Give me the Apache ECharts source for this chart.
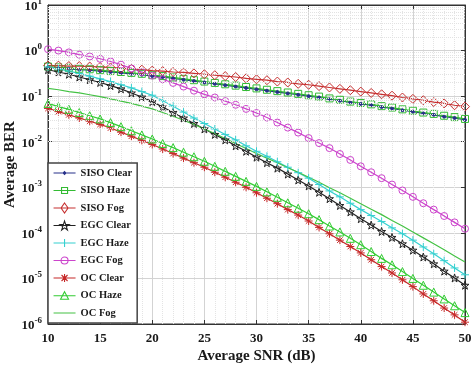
<!DOCTYPE html>
<html><head><meta charset="utf-8">
<script src="https://cdn.jsdelivr.net/npm/echarts@6/dist/echarts.min.js"></script>
<style>html,body{margin:0;padding:0;background:#fff}#c{width:474px;height:365px}</style>
</head><body><div id="c"></div>
<script>
// Average SNR (dB), one marker per dB
var snr = [10,11,12,13,14,15,16,17,18,19,20,21,22,23,24,25,26,27,28,29,30,31,32,33,34,35,36,37,38,39,40,41,42,43,44,45,46,47,48,49,50];
// Average BER, stored as log10(BER)
var sisoClear = [-0.37,-0.39,-0.40,-0.42,-0.43,-0.45,-0.47,-0.49,-0.51,-0.53,-0.56,-0.58,-0.61,-0.64,-0.67,-0.70,-0.73,-0.76,-0.79,-0.82,-0.85,-0.88,-0.91,-0.94,-0.97,-1.00,-1.03,-1.07,-1.10,-1.14,-1.17,-1.20,-1.24,-1.27,-1.31,-1.34,-1.38,-1.41,-1.45,-1.48,-1.52];
var sisoHaze = [-0.35,-0.37,-0.38,-0.40,-0.41,-0.43,-0.45,-0.47,-0.49,-0.51,-0.54,-0.56,-0.59,-0.62,-0.65,-0.68,-0.71,-0.74,-0.77,-0.80,-0.83,-0.86,-0.89,-0.92,-0.95,-0.98,-1.01,-1.05,-1.08,-1.12,-1.15,-1.18,-1.22,-1.25,-1.29,-1.32,-1.36,-1.39,-1.43,-1.46,-1.50];
var sisoFog = [-0.33,-0.33,-0.34,-0.34,-0.35,-0.36,-0.37,-0.39,-0.40,-0.42,-0.44,-0.45,-0.47,-0.48,-0.50,-0.52,-0.54,-0.56,-0.58,-0.61,-0.63,-0.65,-0.68,-0.70,-0.73,-0.75,-0.78,-0.81,-0.84,-0.87,-0.90,-0.93,-0.96,-0.99,-1.03,-1.06,-1.09,-1.13,-1.16,-1.20,-1.23];
var egcClear = [-0.42,-0.47,-0.52,-0.58,-0.64,-0.70,-0.77,-0.84,-0.93,-1.02,-1.12,-1.24,-1.36,-1.48,-1.60,-1.72,-1.84,-1.96,-2.09,-2.21,-2.34,-2.46,-2.58,-2.71,-2.84,-2.97,-3.11,-3.25,-3.40,-3.54,-3.69,-3.83,-3.97,-4.10,-4.24,-4.38,-4.53,-4.68,-4.84,-4.99,-5.15];
var egcHaze = [-0.36,-0.40,-0.45,-0.50,-0.56,-0.62,-0.68,-0.75,-0.82,-0.90,-0.98,-1.10,-1.22,-1.35,-1.48,-1.60,-1.72,-1.84,-1.96,-2.09,-2.21,-2.32,-2.44,-2.56,-2.68,-2.80,-2.94,-3.08,-3.21,-3.35,-3.49,-3.62,-3.75,-3.89,-4.02,-4.16,-4.31,-4.46,-4.61,-4.77,-4.92];
var egcFog = [0.03,0.00,-0.04,-0.09,-0.13,-0.18,-0.24,-0.31,-0.39,-0.47,-0.55,-0.63,-0.71,-0.79,-0.88,-0.96,-1.03,-1.11,-1.19,-1.28,-1.37,-1.47,-1.58,-1.69,-1.80,-1.92,-2.03,-2.14,-2.27,-2.40,-2.54,-2.67,-2.80,-2.94,-3.07,-3.21,-3.35,-3.49,-3.63,-3.77,-3.91];
var ocClear = [-1.27,-1.34,-1.41,-1.48,-1.55,-1.62,-1.70,-1.79,-1.88,-1.97,-2.06,-2.16,-2.26,-2.36,-2.46,-2.56,-2.67,-2.78,-2.89,-3.00,-3.12,-3.24,-3.36,-3.49,-3.61,-3.74,-3.88,-4.02,-4.16,-4.30,-4.44,-4.59,-4.74,-4.88,-5.03,-5.18,-5.34,-5.49,-5.65,-5.80,-5.96];
var ocHaze = [-1.16,-1.23,-1.29,-1.36,-1.43,-1.50,-1.58,-1.67,-1.76,-1.85,-1.94,-2.04,-2.13,-2.23,-2.33,-2.43,-2.54,-2.65,-2.76,-2.87,-2.98,-3.10,-3.22,-3.34,-3.46,-3.58,-3.71,-3.85,-3.98,-4.12,-4.26,-4.41,-4.56,-4.70,-4.85,-5.00,-5.15,-5.30,-5.45,-5.60,-5.75];
var ocFog = [-0.83,-0.86,-0.90,-0.93,-0.97,-1.01,-1.06,-1.11,-1.16,-1.22,-1.28,-1.36,-1.44,-1.53,-1.62,-1.72,-1.82,-1.93,-2.04,-2.15,-2.26,-2.36,-2.46,-2.57,-2.67,-2.78,-2.89,-3.01,-3.12,-3.24,-3.36,-3.48,-3.60,-3.73,-3.85,-3.98,-4.11,-4.24,-4.37,-4.51,-4.64];
var seriesNames = ['SISO Clear','SISO Haze','SISO Fog','EGC Clear','EGC Haze','EGC Fog','OC Clear','OC Haze','OC Fog'];
var xTicks = [10,15,20,25,30,35,40,45,50];

var FONT = '"Liberation Serif", "DejaVu Serif", serif';
var SYM = {
  plus: 'path://M5,0 L5,10 M0,5 L10,5',
  aster: 'path://M5,0 L5,10 M0,5 L10,5 M1.5,1.5 L8.5,8.5 M8.5,1.5 L1.5,8.5',
  penta: 'path://M5,0 L6.2,3.6 L10,3.6 L6.9,5.9 L8.1,9.5 L5,7.3 L1.9,9.5 L3.1,5.9 L0,3.6 L3.8,3.6 Z'
};
// legend icons: line sample with the marker in the middle (22 x 10 box)
var LEG = {
  dot: 'path://M0,5 L22,5 M11,3.6 L12.4,5 L11,6.4 L9.6,5 Z',
  rect: 'path://M0,5 L22,5 M8,2 L14,2 L14,8 L8,8 Z',
  diamond: 'path://M0,5 L22,5 M11,0 L14.5,5 L11,10 L7.5,5 Z',
  penta: 'path://M0,5 L22,5 M11,0.5 L12.1,3.9 L15.6,3.9 L12.8,6 L13.9,9.4 L11,7.3 L8.1,9.4 L9.2,6 L6.4,3.9 L9.9,3.9 Z',
  plus: 'path://M0,5 L22,5 M11,1 L11,9',
  circle: 'path://M0,5 L22,5 M14.5,5 A3.5,3.5 0 1 1 7.5,5 A3.5,3.5 0 1 1 14.5,5 Z',
  aster: 'path://M0,5 L22,5 M11,1 L11,9 M8,2 L14,8 M14,2 L8,8',
  tri: 'path://M0,5 L22,5 M11,1 L15,8.5 L7,8.5 Z',
  line: 'path://M0,5 L22,5 M0,5 L0,5.01 M22,0 L22,0.01 M22,10 L22,10.01'
};

function pts(arr){ return snr.map(function(x,i){ return [x, Math.pow(10, arr[i])]; }); }
function mk(name, arr, color, symbol, size, filled){
  return {
    name: name, type: 'line', data: pts(arr),
    symbol: symbol, symbolSize: size, showSymbol: symbol !== 'none',
    lineStyle: {color: color, width: 1.2},
    itemStyle: {color: filled ? color : 'rgba(0,0,0,0)', borderColor: color, borderWidth: 1},
    emphasis: {disabled: true}, animation: false
  };
}
function leg(name, icon, color){
  return {name: name, icon: icon, itemStyle: {color: 'rgba(0,0,0,0)', borderColor: color, borderWidth: 1.1}};
}
var minorY = [];
for (var d = -6; d < 1; d++) { for (var k = 2; k <= 9; k++) { minorY.push({yAxis: k * Math.pow(10, d)}); } }

var C = {sc:'#27308a', sh:'#33bb33', sf:'#c63030', ec:'#222222', eh:'#35d0d0', ef:'#cc44cc', oc:'#c62828', oh:'#33cc33', of:'#44c244'};

var chart = echarts.init(document.getElementById('c'));
chart.setOption({
  animation: false,
  backgroundColor: '#fff',
  grid: {left: 48, right: 9, top: 5, bottom: 41, containLabel: false, outerBoundsMode: 'none',
         show: true, borderColor: '#333', borderWidth: 1},
  legend: {
    data: [leg('SISO Clear', LEG.dot, C.sc), leg('SISO Haze', LEG.rect, C.sh), leg('SISO Fog', LEG.diamond, C.sf),
           leg('EGC Clear', LEG.penta, C.ec), leg('EGC Haze', LEG.plus, C.eh), leg('EGC Fog', LEG.circle, C.ef),
           leg('OC Clear', LEG.aster, C.oc), leg('OC Haze', LEG.tri, C.oh), leg('OC Fog', LEG.line, C.of)],
    orient: 'vertical', left: 48, top: 163,
    padding: [4, 5, 4, 5], backgroundColor: '#fff', borderColor: '#444', borderWidth: 1.5,
    itemWidth: 22, itemHeight: 10, itemGap: 5.5,
    textStyle: {fontFamily: FONT, fontWeight: 'bold', fontSize: 10.5, lineHeight: 12, color: '#1a1a1a'}
  },
  xAxis: [{
    type: 'value', min: 10, max: 50, interval: 5,
    name: 'Average SNR (dB)', nameLocation: 'middle', nameGap: 25, nameMoveOverlap: false,
    nameTextStyle: {fontFamily: FONT, fontWeight: 'bold', fontSize: 15, color: '#1a1a1a', verticalAlign: 'top'},
    axisLine: {show: true, lineStyle: {color: '#333'}},
    axisTick: {inside: true, length: 4, lineStyle: {color: '#333'}},
    axisLabel: {margin: 8, fontFamily: FONT, fontWeight: 'bold', fontSize: 13, color: '#1a1a1a',
      formatter: function(v){ return xTicks.indexOf(v) >= 0 ? String(v) : ''; }},
    splitLine: {show: true, lineStyle: {color: '#d3d3d3', width: 1}},
    minorTick: {show: false, splitNumber: 5},
    minorSplitLine: {show: true, lineStyle: {color: '#e4e4e4', type: 'dotted'}}
  }, {
    type: 'value', min: 10, max: 50, interval: 5, position: 'top',
    axisLine: {show: true, lineStyle: {color: '#333'}},
    axisTick: {inside: true, length: 4, lineStyle: {color: '#333'}},
    axisLabel: {show: false}, splitLine: {show: false}
  }],
  yAxis: [{
    type: 'log', logBase: 10, min: 1e-6, max: 10, interval: 1,
    name: 'Average BER', nameLocation: 'middle', nameGap: 30, nameMoveOverlap: false,
    nameTextStyle: {fontFamily: FONT, fontWeight: 'bold', fontSize: 15, color: '#1a1a1a'},
    axisLine: {show: true, lineStyle: {color: '#333'}},
    axisTick: {inside: true, length: 4, lineStyle: {color: '#333'}},
    axisLabel: {margin: 6, color: '#1a1a1a',
      formatter: function(v){ var e = Math.round(Math.log(v) / Math.LN10); return '{b|10}{e|' + e + '}'; },
      rich: {
        b: {fontFamily: FONT, fontWeight: 'bold', fontSize: 13, lineHeight: 16, verticalAlign: 'bottom', color: '#1a1a1a'},
        e: {fontFamily: FONT, fontWeight: 'bold', fontSize: 9, lineHeight: 16, verticalAlign: 'top', color: '#1a1a1a'}
      }},
    splitLine: {show: true, lineStyle: {color: '#d3d3d3', width: 1}}
  }, {
    type: 'log', logBase: 10, min: 1e-6, max: 10, interval: 1, position: 'right',
    axisLine: {show: true, lineStyle: {color: '#333'}},
    axisTick: {inside: true, length: 4, lineStyle: {color: '#333'}},
    axisLabel: {show: false}, splitLine: {show: false}
  }],
  series: [
    {name: '_grid', type: 'line', data: [], silent: true, z: 0,
     markLine: {silent: true, symbol: ['none', 'none'], label: {show: false}, animation: false,
       lineStyle: {color: '#e2e2e2', type: 'dotted', width: 1}, data: minorY}},
    mk('SISO Clear', sisoClear, C.sc, 'circle', 3, true),
    mk('SISO Haze', sisoHaze, C.sh, 'rect', 7, false),
    mk('SISO Fog', sisoFog, C.sf, 'diamond', 9, false),
    mk('EGC Clear', egcClear, C.ec, SYM.penta, 8, false),
    mk('EGC Haze', egcHaze, C.eh, SYM.plus, 8, false),
    mk('EGC Fog', egcFog, C.ef, 'circle', 7, false),
    mk('OC Clear', ocClear, C.oc, SYM.aster, 8, false),
    mk('OC Haze', ocHaze, C.oh, 'triangle', 8, false),
    mk('OC Fog', ocFog, C.of, 'none', 0, false)
  ]
});
</script></body></html>
